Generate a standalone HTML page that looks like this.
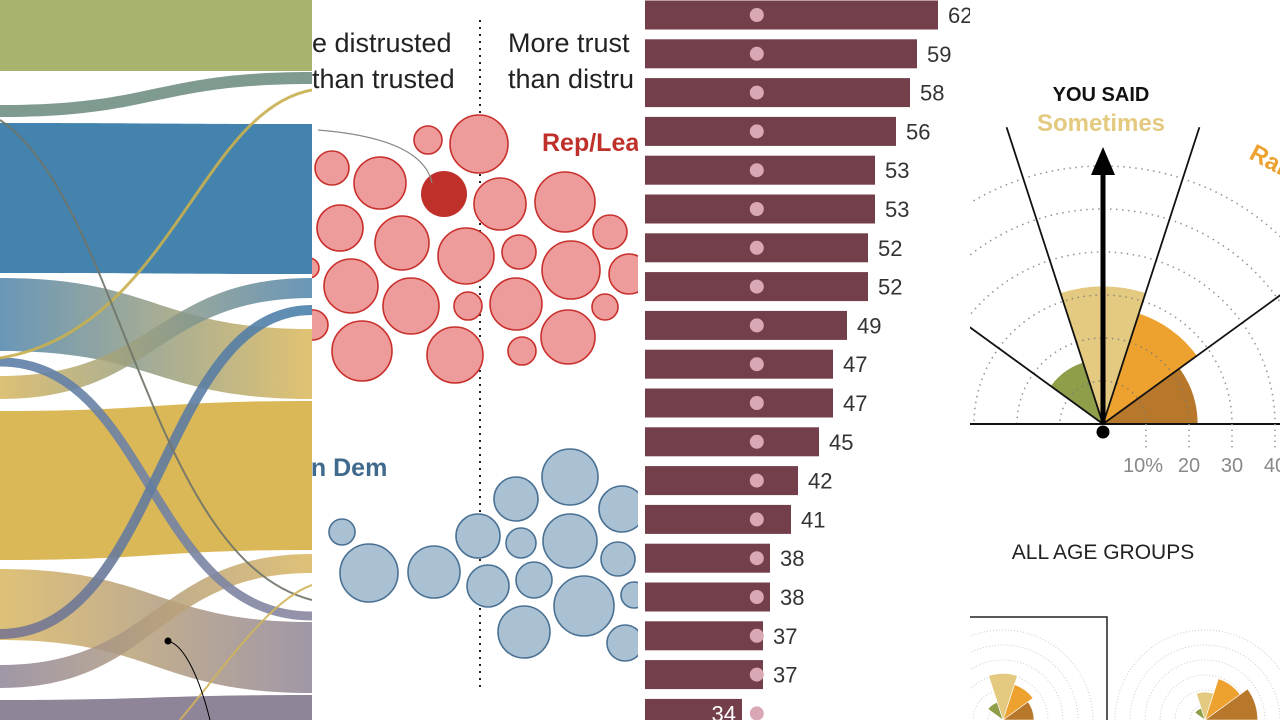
<!DOCTYPE html>
<html><head><meta charset="utf-8"><style>
html,body{margin:0;padding:0;background:#fff;width:1280px;height:720px;overflow:hidden}
svg{display:block;font-family:"Liberation Sans",sans-serif}
</style></head><body>
<svg id="s" width="1280" height="720" viewBox="0 0 1280 720" xmlns="http://www.w3.org/2000/svg">
<defs>
<clipPath id="c1"><rect x="0" y="0" width="312" height="720"/></clipPath>
<clipPath id="c2"><rect x="312" y="0" width="326" height="720"/></clipPath>
<clipPath id="c3"><rect x="638" y="0" width="332" height="720"/></clipPath>
<clipPath id="c4"><rect x="970" y="0" width="310" height="720"/></clipPath>
<clipPath id="cUp"><rect x="970" y="0" width="310" height="424"/></clipPath>
<linearGradient id="gBT"><stop offset="0" stop-color="#4f84ab"/><stop offset="1" stop-color="#dcb85a"/></linearGradient>
<linearGradient id="gTB"><stop offset="0" stop-color="#d6b55e"/><stop offset="1" stop-color="#4f84ab"/></linearGradient>
<linearGradient id="gTM"><stop offset="0" stop-color="#d9b661"/><stop offset="1" stop-color="#8f8598"/></linearGradient>
<linearGradient id="gMT"><stop offset="0" stop-color="#8f8598"/><stop offset="1" stop-color="#d9b661"/></linearGradient>
<linearGradient id="gBM"><stop offset="0" stop-color="#5b7fa8"/><stop offset="1" stop-color="#8a87a0"/></linearGradient>
<linearGradient id="gMB"><stop offset="0" stop-color="#7a7690"/><stop offset="1" stop-color="#4a82ad"/></linearGradient>
</defs>
<g id="sankey" clip-path="url(#c1)"></g>
<g id="bubbles" clip-path="url(#c2)"></g>
<g id="bars" clip-path="url(#c3)"></g>
<g clip-path="url(#c4)"><g id="grid" clip-path="url(#cUp)"></g><g id="radial"></g></g>
</svg>
<script>
// ---- bar chart data ----
const barValues = [62,59,58,56,53,53,52,52,49,47,47,45,42,41,38,38,37,37,34];
const barLabels = ["62","59","58","56","53","53","52","52","49","47","47","45","42","41","38","38","37","37","34"];
const dotValue = 36.4;
// ---- radial data (percent) ----
const radialCategories = ["Never","Seldom","Sometimes","Rarely","Often"];
const radialValues = [0,15,32,27,22];
const radialTicks = ["10%","20","30","40"];
// ---- sankey band data: [leftTop,leftBottom,rightTop,rightBottom] ----
const sankeyBands = [
 [0,71,0,71],[105,117,72,84],[123,273,124,274],[278,351,329,399],[376,399,278,298],
 [411,560,401,550],[569,640,622,693],[665,688,554,573],[700,740,695,740]
];
const sankeyFills = ["#a8b36e","#7f9a8e","#4383ae","url(#gBT)","url(#gTB)","#dbb857","url(#gTM)","url(#gMT)","#8f8598"];
// ---- bubble data [cx,cy,r] ----
const redBubbles = [[428,140,14],[479,144,29],[332,168,17],[380,183,26],[500,204,26],[565,202,30],[340,228,23],[402,243,27],[466,256,28],[519,252,17],[610,232,17],[571,270,29],[629,274,20],[351,286,27],[411,306,28],[468,306,14],[516,304,26],[605,307,13],[313,325,15],[362,351,30],[455,355,28],[522,351,14],[568,337,27],[309,268,10]];
const highlightBubble = [444,194,23];
const blueBubbles = [[342,532,13],[369,573,29],[434,572,26],[478,536,22],[516,499,22],[570,477,28],[622,509,23],[521,543,15],[570,541,27],[618,559,17],[488,586,21],[534,580,18],[584,606,30],[634,595,13],[524,632,26],[625,643,18]];

const NS="http://www.w3.org/2000/svg";
function mk(tag,attrs,parent){const e=document.createElementNS(NS,tag);for(const k in attrs)e.setAttribute(k,attrs[k]);parent.appendChild(e);return e;}

// ---- sankey ----
const sk=document.getElementById('sankey');
sankeyBands.forEach((b,i)=>{
 const d=`M0,${b[0]} C156,${b[0]} 156,${b[2]} 312,${b[2]} L312,${b[3]} C156,${b[3]} 156,${b[1]} 0,${b[1]} Z`;
 const p=mk('path',{d:d,fill:sankeyFills[i],'fill-opacity':i==3||i==4||i==6||i==7?0.85:1},sk);
 
 
});
const flows=[
 {d:"M0,362 C150,362 150,616 312,616",w:9,c:"url(#gBM)"},
 {d:"M0,634 C160,634 160,310 312,310",w:10,c:"url(#gMB)"},
 {d:"M0,358 C170,330 200,110 312,90",w:3,c:"#c8b050"},
 {d:"M0,120 C120,200 150,560 312,600",w:2,c:"#6f7468"},
 {d:"M180,720 C230,660 270,600 312,585",w:2,c:"#d0b45a"}
];
flows.forEach(f=>{const p=mk('path',{d:f.d,fill:'none',stroke:f.c,'stroke-width':f.w,'stroke-opacity':0.9},sk);
 });
let a=mk('path',{d:"M168,641 C185,645 200,680 210,720",fill:'none',stroke:'#000','stroke-width':1},sk);

a=mk('circle',{cx:168,cy:641,r:3.5,fill:'#000'},sk);


// ---- bubbles ----
const bb=document.getElementById('bubbles');
mk('rect',{x:312,y:0,width:326,height:720,fill:'#fff'},bb);
let t;
[["e distrusted",312,52],["than trusted",312,88],["More trust",508,52],["than distru",508,88]].forEach(h=>{
 t=mk('text',{x:h[1],y:h[2],'font-size':27,fill:'#222'},bb);t.textContent=h[0];
 
});
t=mk('line',{x1:480,y1:20,x2:480,y2:690,stroke:'#222','stroke-width':2,'stroke-dasharray':'2 5'},bb);

redBubbles.forEach(c=>{const e=mk('circle',{cx:c[0],cy:c[1],r:c[2],fill:'#ee9b9b',stroke:'#c8302c','stroke-width':1.6},bb);
 });
t=mk('circle',{cx:highlightBubble[0],cy:highlightBubble[1],r:highlightBubble[2],fill:'#c0302a'},bb);

t=mk('path',{d:"M318,130 C380,135 425,150 432,183",fill:'none',stroke:'#888','stroke-width':1.2},bb);

blueBubbles.forEach(c=>{const e=mk('circle',{cx:c[0],cy:c[1],r:c[2],fill:'#a9c1d3',stroke:'#4a7194','stroke-width':1.6},bb);
 });
t=mk('text',{x:542,y:151,'font-size':25,'font-weight':'bold',fill:'#c0302a'},bb);t.textContent="Rep/Lean Rep";

t=mk('text',{x:297,y:476,'font-size':25,'font-weight':'bold',fill:'#3f6a8e'},bb);t.textContent="an Dem";


// ---- bars ----
const br=document.getElementById('bars');
mk('rect',{x:638,y:0,width:332,height:720,fill:'#fff'},br);
const xB=v=>504+7*v, yB=i=>15+i*38.8, x0=645;
barValues.forEach((v,i)=>{
 const r=mk('rect',{x:x0,y:yB(i)-14.5,width:xB(v)-x0,height:29,fill:'#733f4a'},br);
 
 const d=mk('circle',{cx:xB(dotValue)-2,cy:yB(i),r:7,fill:'#d9a8b4'},br);
 
 const inside = v<36;
 const tx=mk('text',{x:inside?xB(v)-6:xB(v)+10,y:yB(i)+8,'font-size':22,fill:inside?'#fff':'#333','text-anchor':inside?'end':'start'},br);
 tx.textContent=barLabels[i];
 
});

// ---- radial ----
const rd=document.getElementById('radial');
const gd=document.getElementById('grid');
const cx=1103, cy=424, k=4.3;
const cols=["#ccc","#8f9e48","#e3ca80","#eda22f","#b8782c"];
function wedge(a0,a1,r,cxx,cyy){
 const p=(a)=>[cxx+r*Math.cos(a*Math.PI/180),cyy-r*Math.sin(a*Math.PI/180)];
 const s=p(a0),e=p(a1);
 return `M${cxx},${cyy} L${s[0]},${s[1]} A${r},${r} 0 0 0 ${e[0]},${e[1]} Z`;
}
radialValues.forEach((v,i)=>{
 const a1=180-36*i, a0=a1-36;
 if(v<=0)return;
 const w=mk('path',{d:wedge(a0,a1,v*k,cx,cy),fill:cols[i]},gd);
 
});
[10,20,30,40,50,60].forEach(p=>{const c=mk('circle',{cx:cx,cy:cy,r:p*k,fill:'none',stroke:'#777','stroke-opacity':0.8,'stroke-width':1.5,'stroke-dasharray':'1.5 4.5'},gd);
 });
[36,72,108,144].forEach(a=>{
 const L=(a==72||a==108)?312:230;
 const l=mk('line',{x1:cx,y1:cy,x2:cx+L*Math.cos(a*Math.PI/180),y2:cy-L*Math.sin(a*Math.PI/180),stroke:'#111','stroke-width':1.8},rd);
 
});
t=mk('line',{x1:970,y1:cy,x2:1280,y2:cy,stroke:'#111','stroke-width':2},rd);

[10,20,30,40].forEach(p=>{const l=mk('line',{x1:cx+p*k,y1:cy,x2:cx+p*k,y2:cy+25,stroke:'#999','stroke-width':1.5,'stroke-dasharray':'1.5 4'},rd);});
radialTicks.forEach((s,i)=>{
 const tt=mk('text',{x:cx+(i+1)*10*k,y:472,'font-size':20,fill:'#888','text-anchor':'middle'},rd);
 if(i==0){tt.setAttribute('x',cx+20);tt.setAttribute('text-anchor','start');}
 tt.textContent=s;
});
t=mk('line',{x1:cx,y1:cy,x2:cx,y2:170,stroke:'#000','stroke-width':5},rd);

mk('path',{d:`M${cx},147 L${cx-12},175 L${cx+12},175 Z`,fill:'#000'},rd);
mk('circle',{cx:cx,cy:432,r:6.5,fill:'#000'},rd);
t=mk('text',{x:1101,y:101,'font-size':20,'font-weight':'bold',fill:'#111','text-anchor':'middle'},rd);t.textContent="YOU SAID";

t=mk('text',{x:1101,y:131,'font-size':24,'font-weight':'bold',fill:'#e3ca80','text-anchor':'middle'},rd);t.textContent="Sometimes";

t=mk('text',{x:1248,y:158,'font-size':24,'font-weight':'bold',fill:'#eda22f',transform:'rotate(28 1248 158)'},rd);t.textContent="Rarely";

t=mk('text',{x:1103,y:559,'font-size':21,fill:'#222','text-anchor':'middle'},rd);t.textContent="ALL AGE GROUPS";

t=mk('path',{d:"M970,617 L1107,617 L1107,720",fill:'none',stroke:'#222','stroke-width':1.5},rd);

const smallVals=[[0,12,30,24,20],[0,8,18,28,34]];
[[1003,720],[1205,720]].forEach((c,j)=>{
 [15,30,45,60,75,90].forEach(r=>mk('circle',{cx:c[0],cy:c[1],r:r,fill:'none',stroke:'#ccc','stroke-width':1,'stroke-dasharray':'1 2'},rd));
 smallVals[j].forEach((v,i)=>{ if(v<=0)return; const a1=180-36*i;
  const w=mk('path',{d:wedge(a1-36,a1,v*1.55,c[0],c[1]),fill:cols[i],stroke:'#fff','stroke-width':0.6},rd);
  });
});
</script>
</body></html>
